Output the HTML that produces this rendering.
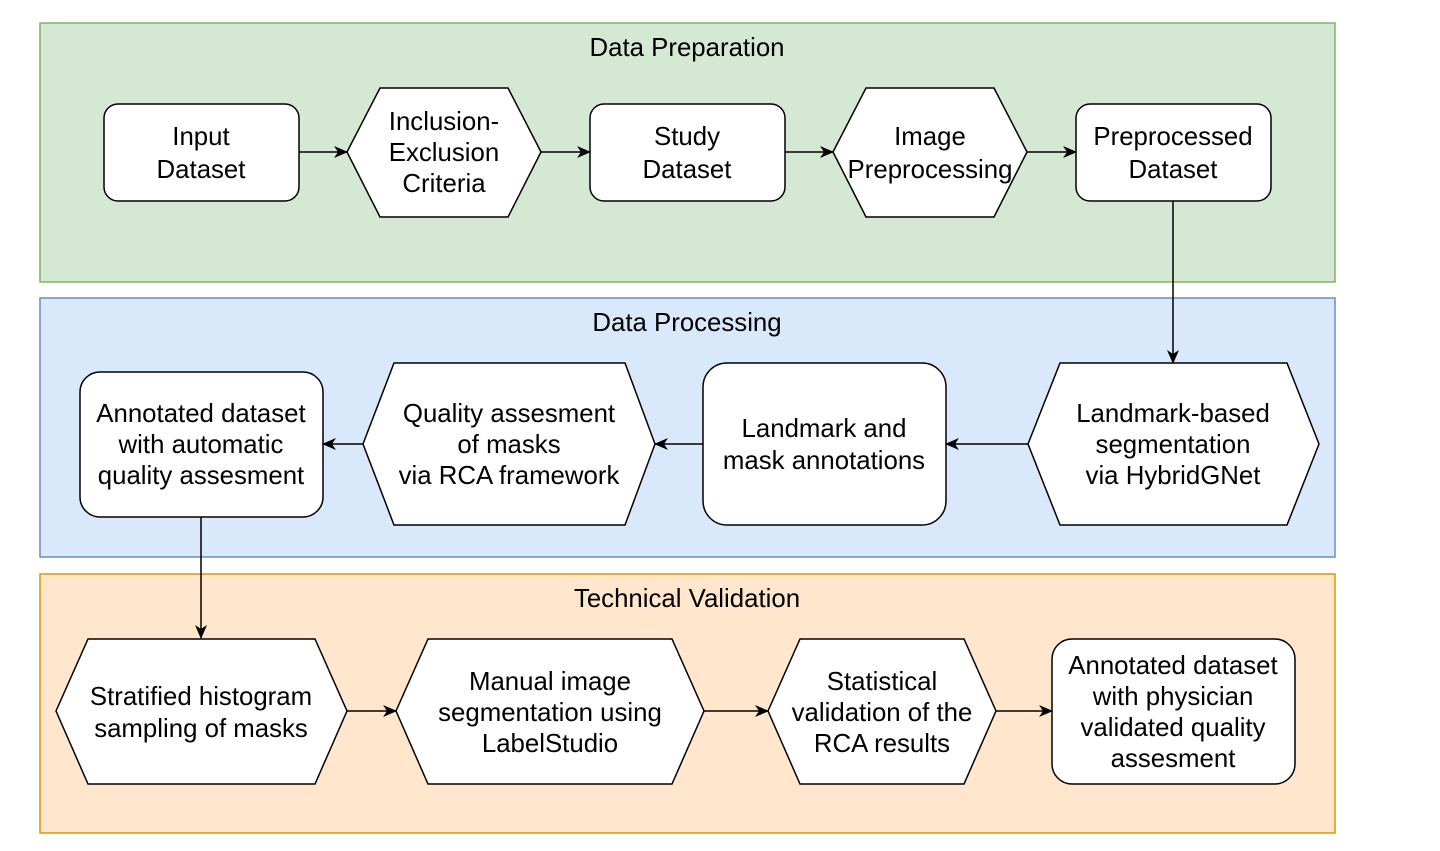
<!DOCTYPE html>
<html><head><meta charset="utf-8"><style>
html,body{margin:0;padding:0;background:#fff;}
svg{display:block;}
text{font-family:"Liberation Sans",Arial,sans-serif;font-size:25.8px;fill:#000;text-anchor:middle;dominant-baseline:central;}
.n{fill:#fff;stroke:#000;stroke-width:1.5;}
.l{stroke:#000;stroke-width:1.5;fill:none;}
</style></head><body>
<svg width="1440" height="851" viewBox="0 0 1440 851" xmlns="http://www.w3.org/2000/svg">
<defs><marker id="a" markerWidth="14" markerHeight="12" refX="13" refY="6" orient="auto" markerUnits="userSpaceOnUse"><path d="M0,0 L14,6 L0,12 L4,6 Z" fill="#000"/></marker></defs>
<rect x="40" y="23" width="1295" height="259" fill="#d5e8d4" stroke="#82b366" stroke-width="1.5"/>
<rect x="40" y="298" width="1295" height="259" fill="#dae8fc" stroke="#6c8ebf" stroke-width="1.5"/>
<rect x="40" y="574" width="1295" height="259" fill="#ffe6cc" stroke="#d79b00" stroke-width="1.5"/>
<text x="687" y="48">Data Preparation</text>
<text x="687" y="323">Data Processing</text>
<text x="687" y="599">Technical Validation</text>

<rect class="n" x="104" y="104" width="195" height="97" rx="14"/>
<text x="201" y="137">Input</text><text x="201" y="170">Dataset</text>
<polygon class="n" points="347,152 380,88 508,88 541,152 508,217 380,217"/>
<text x="444" y="122">Inclusion-</text><text x="444" y="153">Exclusion</text><text x="444" y="184">Criteria</text>
<rect class="n" x="590" y="104" width="195" height="97" rx="14"/>
<text x="687" y="137">Study</text><text x="687" y="170">Dataset</text>
<polygon class="n" points="833,152 866,88 994,88 1027,152 994,217 866,217"/>
<text x="930" y="137">Image</text><text x="930" y="170">Preprocessing</text>
<rect class="n" x="1076" y="104" width="195" height="97" rx="14"/>
<text x="1173" y="137">Preprocessed</text><text x="1173" y="170">Dataset</text>
<line class="l" x1="299" y1="152" x2="347" y2="152" marker-end="url(#a)"/>
<line class="l" x1="541" y1="152" x2="590" y2="152" marker-end="url(#a)"/>
<line class="l" x1="785" y1="152" x2="833" y2="152" marker-end="url(#a)"/>
<line class="l" x1="1027" y1="152" x2="1076" y2="152" marker-end="url(#a)"/>
<line class="l" x1="1173" y1="201" x2="1173" y2="363" marker-end="url(#a)"/>

<polygon class="n" points="1028,444 1060,363 1287,363 1319,444 1287,525 1060,525"/>
<text x="1173" y="414">Landmark-based</text><text x="1173" y="445">segmentation</text><text x="1173" y="476">via HybridGNet</text>
<rect class="n" x="703" y="363" width="243" height="162" rx="24"/>
<text x="824" y="429">Landmark and</text><text x="824" y="461">mask annotations</text>
<polygon class="n" points="363,444 394,363 625,363 655,444 625,525 394,525"/>
<text x="509" y="414">Quality assesment</text><text x="509" y="445">of masks</text><text x="509" y="476">via RCA framework</text>
<rect class="n" x="80" y="372" width="243" height="145" rx="20"/>
<text x="201" y="414">Annotated dataset</text><text x="201" y="445">with automatic</text><text x="201" y="476">quality assesment</text>
<line class="l" x1="1028" y1="444" x2="946" y2="444" marker-end="url(#a)"/>
<line class="l" x1="703" y1="444" x2="655" y2="444" marker-end="url(#a)"/>
<line class="l" x1="363" y1="444" x2="323" y2="444" marker-end="url(#a)"/>
<line class="l" x1="201" y1="517" x2="201" y2="638" marker-end="url(#a)"/>

<polygon class="n" points="56,711 88,639 315,639 347,711 315,784 88,784"/>
<text x="201" y="697">Stratified histogram</text><text x="201" y="729">sampling of masks</text>
<polygon class="n" points="396,711 428,639 672,639 704,711 672,784 428,784"/>
<text x="550" y="682">Manual image</text><text x="550" y="713">segmentation using</text><text x="550" y="744">LabelStudio</text>
<polygon class="n" points="768,711 800,639 964,639 996,711 964,784 800,784"/>
<text x="882" y="682">Statistical</text><text x="882" y="713">validation of the</text><text x="882" y="744">RCA results</text>
<rect class="n" x="1052" y="639" width="243" height="145" rx="20"/>
<text x="1173" y="666">Annotated dataset</text><text x="1173" y="697">with physician</text><text x="1173" y="728">validated quality</text><text x="1173" y="759">assesment</text>
<line class="l" x1="347" y1="711" x2="396" y2="711" marker-end="url(#a)"/>
<line class="l" x1="704" y1="711" x2="768" y2="711" marker-end="url(#a)"/>
<line class="l" x1="996" y1="711" x2="1052" y2="711" marker-end="url(#a)"/>
</svg>
</body></html>
